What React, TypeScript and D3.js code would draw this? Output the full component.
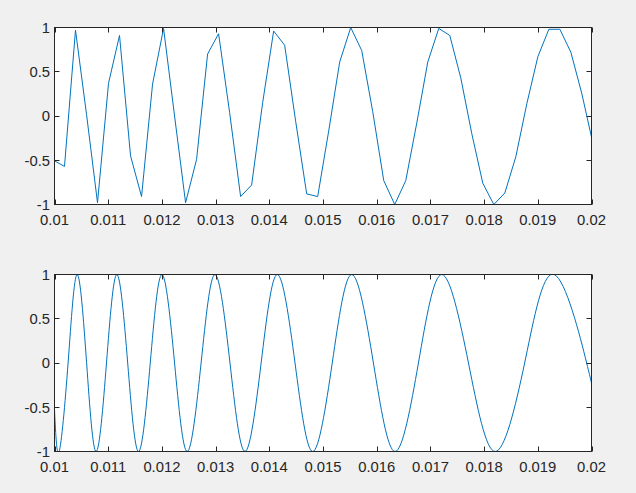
import React from "react";
import * as d3 from "d3";

const xTicks = [0.01, 0.011, 0.012, 0.013, 0.014, 0.015, 0.016, 0.017, 0.018, 0.019, 0.02];
const xTickLabels = ["0.01", "0.011", "0.012", "0.013", "0.014", "0.015", "0.016", "0.017", "0.018", "0.019", "0.02"];
const yTicks = [-1, -0.5, 0, 0.5, 1];
const yTickLabels = ["-1", "-0.5", "0", "0.5", "1"];

const sampledTime = [
  0.009981, 0.010186, 0.010391, 0.010596, 0.010801, 0.011006, 0.011211, 0.011416, 0.011621, 0.011826,
  0.012031, 0.012236, 0.012441, 0.012646, 0.012851, 0.013056, 0.013261, 0.013466, 0.013671, 0.013876,
  0.014081, 0.014286, 0.014491, 0.014696, 0.014901, 0.015106, 0.015311, 0.015516, 0.015721, 0.015926,
  0.016131, 0.016336, 0.016541, 0.016746, 0.016951, 0.017156, 0.017361, 0.017566, 0.017771, 0.017976,
  0.018181, 0.018386, 0.018591, 0.018796, 0.019001, 0.019206, 0.019411, 0.019616, 0.019821, 0.020026,
];
const sampledValue = [
  -0.5, -0.57, 0.97, 0.02, -0.98, 0.37, 0.91, -0.45, -0.91, 0.36,
  0.99, 0.0, -0.98, -0.49, 0.7, 0.93, 0.04, -0.91, -0.78, 0.15,
  0.96, 0.8, -0.06, -0.88, -0.91, -0.17, 0.61, 1.0, 0.74, 0.05,
  -0.73, -1.0, -0.73, -0.08, 0.61, 0.99, 0.91, 0.43, -0.2, -0.76,
  -1.0, -0.87, -0.46, 0.14, 0.67, 0.98, 0.98, 0.72, 0.25, -0.31,
];

// Bottom panel: smooth signal, key points (edges, extrema, zero crossings)
const smoothTime = [
  0.01, 0.010086, 0.010253, 0.010421, 0.010598, 0.010775, 0.010968, 0.011161, 0.011363, 0.011565,
  0.011783, 0.012, 0.012236, 0.012471, 0.01273, 0.012988, 0.013268, 0.013547, 0.013848, 0.014149,
  0.014479, 0.014808, 0.015172, 0.015535, 0.015939, 0.016342, 0.016777, 0.017212, 0.017709, 0.018205,
  0.018755, 0.019305, 0.01991, 0.02,
];
const smoothValue = [
  -0.52, -1, 0, 1, 0, -1, 0, 1, 0, -1,
  0, 1, 0, -1, 0, 1, 0, -1, 0, 1,
  0, -1, 0, 1, 0, -1, 0, 1, 0, -1,
  0, 1, 0, -0.25,
];

const W = 636;
const H = 493;
const LEFT = 54.5;
const RIGHT = 591.5;
const AXIS = "#262626";
const LINE = "#0072BD";
const FONT = "'Liberation Sans', Arial, Helvetica, sans-serif";
const FS = 14.8;
const TICK = 5;

function Panel({ id, top, bottom, times, values, curve }: any) {
  const x = d3.scaleLinear().domain([0.01, 0.02]).range([LEFT, RIGHT]);
  const y = d3.scaleLinear().domain([-1, 1]).range([bottom, top]);
  const pts = times.map((t: number, i: number) => [t, values[i]] as [number, number]);
  const path = d3
    .line<[number, number]>()
    .x((d) => x(d[0]))
    .y((d) => y(d[1]))
    .curve(curve)(pts) as string;
  return (
    <g>
      <defs>
        <clipPath id={id}>
          <rect x={LEFT} y={top} width={RIGHT - LEFT} height={bottom - top} />
        </clipPath>
      </defs>
      <rect x={LEFT} y={top} width={RIGHT - LEFT} height={bottom - top} fill="#ffffff" />
      <path d={path} fill="none" stroke={LINE} strokeWidth={1} clipPath={`url(#${id})`} />
      <rect x={LEFT} y={top} width={RIGHT - LEFT} height={bottom - top} fill="none" stroke={AXIS} strokeWidth={1} />
      {xTicks.map((t, i) => (
        <g key={"x" + i}>
          <line x1={Math.round(x(t)) + 0.5} x2={Math.round(x(t)) + 0.5} y1={bottom} y2={bottom - TICK} stroke={AXIS} />
          <line x1={Math.round(x(t)) + 0.5} x2={Math.round(x(t)) + 0.5} y1={top} y2={top + TICK} stroke={AXIS} />
          <text x={x(t)} y={bottom + 20.5} textAnchor="middle" fontFamily={FONT} fontSize={FS} fill={AXIS}>
            {xTickLabels[i]}
          </text>
        </g>
      ))}
      {yTicks.map((v, i) => (
        <g key={"y" + i}>
          <line x1={LEFT} x2={LEFT + TICK} y1={Math.round(y(v) - 0.5) + 0.5} y2={Math.round(y(v) - 0.5) + 0.5} stroke={AXIS} />
          <line x1={RIGHT} x2={RIGHT - TICK} y1={Math.round(y(v) - 0.5) + 0.5} y2={Math.round(y(v) - 0.5) + 0.5} stroke={AXIS} />
          <text x={LEFT - 4.5} y={y(v)} dy="0.36em" textAnchor="end" fontFamily={FONT} fontSize={FS} fill={AXIS}>
            {yTickLabels[i]}
          </text>
        </g>
      ))}
    </g>
  );
}

export default function App() {
  return (
    <svg
      width={W}
      height={H}
      style={{ position: "absolute", left: 0, top: 0, display: "block" }}
      viewBox={`0 0 ${W} ${H}`}
    >
      <rect x={0} y={0} width={W} height={H} fill="#f0f0f0" />
      <Panel id="clipTop" top={27.5} bottom={204.5} times={sampledTime} values={sampledValue} curve={d3.curveLinear} />
      <Panel id="clipBottom" top={274.5} bottom={451.5} times={smoothTime} values={smoothValue} curve={d3.curveNatural} />
    </svg>
  );
}
